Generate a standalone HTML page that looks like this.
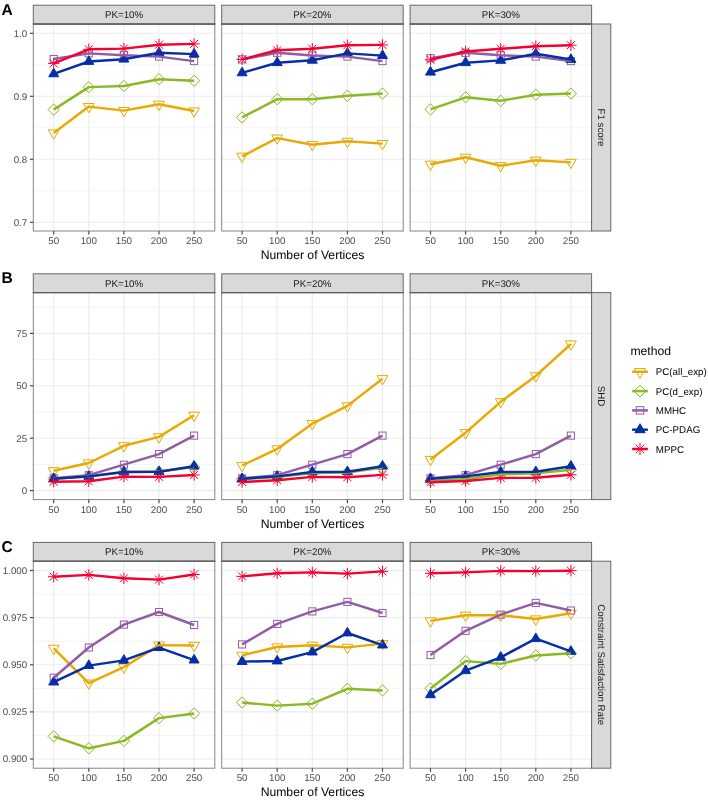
<!DOCTYPE html>
<html><head><meta charset="utf-8"><title>plot</title>
<style>
html,body{margin:0;padding:0;background:#fff;}
svg{display:block;font-family:"Liberation Sans", sans-serif;text-rendering:geometricPrecision;filter:blur(0.35px);}
</style></head><body>
<svg width="708" height="801" viewBox="0 0 708 801">
<rect x="0" y="0" width="708" height="801" fill="#fff"/>
<text x="1.6" y="14.8" font-size="15.6" font-weight="bold" fill="#000">A</text>
<rect x="33.3" y="24" width="181.5" height="207" fill="#fff"/>
<line x1="33.3" y1="64.8" x2="214.8" y2="64.8" stroke="#EBEBEB" stroke-width="0.55"/>
<line x1="33.3" y1="127.8" x2="214.8" y2="127.8" stroke="#EBEBEB" stroke-width="0.55"/>
<line x1="33.3" y1="190.8" x2="214.8" y2="190.8" stroke="#EBEBEB" stroke-width="0.55"/>
<line x1="33.3" y1="33.3" x2="214.8" y2="33.3" stroke="#EBEBEB" stroke-width="1.1"/>
<line x1="33.3" y1="96.3" x2="214.8" y2="96.3" stroke="#EBEBEB" stroke-width="1.1"/>
<line x1="33.3" y1="159.3" x2="214.8" y2="159.3" stroke="#EBEBEB" stroke-width="1.1"/>
<line x1="33.3" y1="222.3" x2="214.8" y2="222.3" stroke="#EBEBEB" stroke-width="1.1"/>
<line x1="53.7" y1="24" x2="53.7" y2="231" stroke="#EBEBEB" stroke-width="1.1"/>
<line x1="88.8" y1="24" x2="88.8" y2="231" stroke="#EBEBEB" stroke-width="1.1"/>
<line x1="123.9" y1="24" x2="123.9" y2="231" stroke="#EBEBEB" stroke-width="1.1"/>
<line x1="159" y1="24" x2="159" y2="231" stroke="#EBEBEB" stroke-width="1.1"/>
<line x1="194.1" y1="24" x2="194.1" y2="231" stroke="#EBEBEB" stroke-width="1.1"/>
<polygon points="53.7,139.22 59.09,129.89 48.31,129.89" fill="none" stroke="#E8A900" stroke-width="1.0"/>
<polygon points="88.8,112.82 94.19,103.49 83.41,103.49" fill="none" stroke="#E8A900" stroke-width="1.0"/>
<polygon points="123.9,116.82 129.29,107.49 118.51,107.49" fill="none" stroke="#E8A900" stroke-width="1.0"/>
<polygon points="159,110.52 164.39,101.19 153.61,101.19" fill="none" stroke="#E8A900" stroke-width="1.0"/>
<polygon points="194.1,117.22 199.49,107.89 188.71,107.89" fill="none" stroke="#E8A900" stroke-width="1.0"/>
<polygon points="48.04,109.6 53.7,115.26 59.36,109.6 53.7,103.94" fill="none" stroke="#8BB823" stroke-width="1.0"/>
<polygon points="83.14,87.1 88.8,92.76 94.46,87.1 88.8,81.44" fill="none" stroke="#8BB823" stroke-width="1.0"/>
<polygon points="118.24,86 123.9,91.66 129.56,86 123.9,80.34" fill="none" stroke="#8BB823" stroke-width="1.0"/>
<polygon points="153.34,79.2 159,84.86 164.66,79.2 159,73.54" fill="none" stroke="#8BB823" stroke-width="1.0"/>
<polygon points="188.44,80.8 194.1,86.46 199.76,80.8 194.1,75.14" fill="none" stroke="#8BB823" stroke-width="1.0"/>
<rect x="50.16" y="55.46" width="7.09" height="7.09" fill="none" stroke="#925CA4" stroke-width="1.0"/>
<rect x="85.26" y="49.86" width="7.09" height="7.09" fill="none" stroke="#925CA4" stroke-width="1.0"/>
<rect x="120.36" y="51.76" width="7.09" height="7.09" fill="none" stroke="#925CA4" stroke-width="1.0"/>
<rect x="155.46" y="53.06" width="7.09" height="7.09" fill="none" stroke="#925CA4" stroke-width="1.0"/>
<rect x="190.56" y="57.56" width="7.09" height="7.09" fill="none" stroke="#925CA4" stroke-width="1.0"/>
<polygon points="53.7,68.15 58.68,76.78 48.72,76.78" fill="#062EA6" stroke="#062EA6" stroke-width="1.0" stroke-linejoin="round"/>
<polygon points="88.8,55.75 93.78,64.38 83.82,64.38" fill="#062EA6" stroke="#062EA6" stroke-width="1.0" stroke-linejoin="round"/>
<polygon points="123.9,53.45 128.88,62.08 118.92,62.08" fill="#062EA6" stroke="#062EA6" stroke-width="1.0" stroke-linejoin="round"/>
<polygon points="159,47.05 163.98,55.68 154.02,55.68" fill="#062EA6" stroke="#062EA6" stroke-width="1.0" stroke-linejoin="round"/>
<polygon points="194.1,48.35 199.08,56.98 189.12,56.98" fill="#062EA6" stroke="#062EA6" stroke-width="1.0" stroke-linejoin="round"/>
<path d="M49.7 59.4L57.7 67.4M49.7 67.4L57.7 59.4M48.04 63.4L59.36 63.4M53.7 57.74L53.7 69.06" fill="none" stroke="#F70031" stroke-width="1.0"/>
<path d="M84.8 45.3L92.8 53.3M84.8 53.3L92.8 45.3M83.14 49.3L94.46 49.3M88.8 43.64L88.8 54.96" fill="none" stroke="#F70031" stroke-width="1.0"/>
<path d="M119.9 44.6L127.9 52.6M119.9 52.6L127.9 44.6M118.24 48.6L129.56 48.6M123.9 42.94L123.9 54.26" fill="none" stroke="#F70031" stroke-width="1.0"/>
<path d="M155 40.7L163 48.7M155 48.7L163 40.7M153.34 44.7L164.66 44.7M159 39.04L159 50.36" fill="none" stroke="#F70031" stroke-width="1.0"/>
<path d="M190.1 39.9L198.1 47.9M190.1 47.9L198.1 39.9M188.44 43.9L199.76 43.9M194.1 38.24L194.1 49.56" fill="none" stroke="#F70031" stroke-width="1.0"/>
<polyline points="53.7,133 88.8,106.6 123.9,110.6 159,104.3 194.1,111" fill="none" stroke="#E8A900" stroke-width="2.45" stroke-linejoin="round" stroke-linecap="butt"/>
<polyline points="53.7,109.6 88.8,87.1 123.9,86 159,79.2 194.1,80.8" fill="none" stroke="#8BB823" stroke-width="2.45" stroke-linejoin="round" stroke-linecap="butt"/>
<polyline points="53.7,59 88.8,53.4 123.9,55.3 159,56.6 194.1,61.1" fill="none" stroke="#925CA4" stroke-width="2.45" stroke-linejoin="round" stroke-linecap="butt"/>
<polyline points="53.7,73.9 88.8,61.5 123.9,59.2 159,52.8 194.1,54.1" fill="none" stroke="#062EA6" stroke-width="2.45" stroke-linejoin="round" stroke-linecap="butt"/>
<polyline points="53.7,63.4 88.8,49.3 123.9,48.6 159,44.7 194.1,43.9" fill="none" stroke="#F70031" stroke-width="2.45" stroke-linejoin="round" stroke-linecap="butt"/>
<rect x="33.3" y="24" width="181.5" height="207" fill="none" stroke="#858585" stroke-width="1.0"/>
<rect x="33.3" y="5.2" width="181.5" height="18.8" fill="#D9D9D9" stroke="#686868" stroke-width="1.0"/>
<line x1="32.8" y1="24" x2="215.3" y2="24" stroke="#5c5c5c" stroke-width="1.3"/>
<text x="124.05" y="18.2" font-size="9.76" fill="#1A1A1A" text-anchor="middle">PK=10%</text>
<line x1="53.7" y1="231" x2="53.7" y2="234.6" stroke="#444444" stroke-width="1.15"/>
<text x="53.7" y="244" font-size="9.76" fill="#4D4D4D" text-anchor="middle">50</text>
<line x1="88.8" y1="231" x2="88.8" y2="234.6" stroke="#444444" stroke-width="1.15"/>
<text x="88.8" y="244" font-size="9.76" fill="#4D4D4D" text-anchor="middle">100</text>
<line x1="123.9" y1="231" x2="123.9" y2="234.6" stroke="#444444" stroke-width="1.15"/>
<text x="123.9" y="244" font-size="9.76" fill="#4D4D4D" text-anchor="middle">150</text>
<line x1="159" y1="231" x2="159" y2="234.6" stroke="#444444" stroke-width="1.15"/>
<text x="159" y="244" font-size="9.76" fill="#4D4D4D" text-anchor="middle">200</text>
<line x1="194.1" y1="231" x2="194.1" y2="234.6" stroke="#444444" stroke-width="1.15"/>
<text x="194.1" y="244" font-size="9.76" fill="#4D4D4D" text-anchor="middle">250</text>
<rect x="221.7" y="24" width="181.5" height="207" fill="#fff"/>
<line x1="221.7" y1="64.8" x2="403.2" y2="64.8" stroke="#EBEBEB" stroke-width="0.55"/>
<line x1="221.7" y1="127.8" x2="403.2" y2="127.8" stroke="#EBEBEB" stroke-width="0.55"/>
<line x1="221.7" y1="190.8" x2="403.2" y2="190.8" stroke="#EBEBEB" stroke-width="0.55"/>
<line x1="221.7" y1="33.3" x2="403.2" y2="33.3" stroke="#EBEBEB" stroke-width="1.1"/>
<line x1="221.7" y1="96.3" x2="403.2" y2="96.3" stroke="#EBEBEB" stroke-width="1.1"/>
<line x1="221.7" y1="159.3" x2="403.2" y2="159.3" stroke="#EBEBEB" stroke-width="1.1"/>
<line x1="221.7" y1="222.3" x2="403.2" y2="222.3" stroke="#EBEBEB" stroke-width="1.1"/>
<line x1="242.1" y1="24" x2="242.1" y2="231" stroke="#EBEBEB" stroke-width="1.1"/>
<line x1="277.2" y1="24" x2="277.2" y2="231" stroke="#EBEBEB" stroke-width="1.1"/>
<line x1="312.3" y1="24" x2="312.3" y2="231" stroke="#EBEBEB" stroke-width="1.1"/>
<line x1="347.4" y1="24" x2="347.4" y2="231" stroke="#EBEBEB" stroke-width="1.1"/>
<line x1="382.5" y1="24" x2="382.5" y2="231" stroke="#EBEBEB" stroke-width="1.1"/>
<polygon points="242.1,162.52 247.49,153.19 236.71,153.19" fill="none" stroke="#E8A900" stroke-width="1.0"/>
<polygon points="277.2,144.32 282.59,134.99 271.81,134.99" fill="none" stroke="#E8A900" stroke-width="1.0"/>
<polygon points="312.3,150.92 317.69,141.59 306.91,141.59" fill="none" stroke="#E8A900" stroke-width="1.0"/>
<polygon points="347.4,147.52 352.79,138.19 342.01,138.19" fill="none" stroke="#E8A900" stroke-width="1.0"/>
<polygon points="382.5,149.82 387.89,140.49 377.11,140.49" fill="none" stroke="#E8A900" stroke-width="1.0"/>
<polygon points="236.44,117.4 242.1,123.06 247.76,117.4 242.1,111.74" fill="none" stroke="#8BB823" stroke-width="1.0"/>
<polygon points="271.54,99.2 277.2,104.86 282.86,99.2 277.2,93.54" fill="none" stroke="#8BB823" stroke-width="1.0"/>
<polygon points="306.64,99.2 312.3,104.86 317.96,99.2 312.3,93.54" fill="none" stroke="#8BB823" stroke-width="1.0"/>
<polygon points="341.74,95.8 347.4,101.46 353.06,95.8 347.4,90.14" fill="none" stroke="#8BB823" stroke-width="1.0"/>
<polygon points="376.84,93.5 382.5,99.16 388.16,93.5 382.5,87.84" fill="none" stroke="#8BB823" stroke-width="1.0"/>
<rect x="238.56" y="55.86" width="7.09" height="7.09" fill="none" stroke="#925CA4" stroke-width="1.0"/>
<rect x="273.66" y="49.26" width="7.09" height="7.09" fill="none" stroke="#925CA4" stroke-width="1.0"/>
<rect x="308.76" y="51.96" width="7.09" height="7.09" fill="none" stroke="#925CA4" stroke-width="1.0"/>
<rect x="343.86" y="53.06" width="7.09" height="7.09" fill="none" stroke="#925CA4" stroke-width="1.0"/>
<rect x="378.96" y="57.56" width="7.09" height="7.09" fill="none" stroke="#925CA4" stroke-width="1.0"/>
<polygon points="242.1,67.15 247.08,75.78 237.12,75.78" fill="#062EA6" stroke="#062EA6" stroke-width="1.0" stroke-linejoin="round"/>
<polygon points="277.2,56.95 282.18,65.58 272.22,65.58" fill="#062EA6" stroke="#062EA6" stroke-width="1.0" stroke-linejoin="round"/>
<polygon points="312.3,54.55 317.28,63.18 307.32,63.18" fill="#062EA6" stroke="#062EA6" stroke-width="1.0" stroke-linejoin="round"/>
<polygon points="347.4,47.65 352.38,56.28 342.42,56.28" fill="#062EA6" stroke="#062EA6" stroke-width="1.0" stroke-linejoin="round"/>
<polygon points="382.5,49.85 387.48,58.48 377.52,58.48" fill="#062EA6" stroke="#062EA6" stroke-width="1.0" stroke-linejoin="round"/>
<path d="M238.1 55.4L246.1 63.4M238.1 63.4L246.1 55.4M236.44 59.4L247.76 59.4M242.1 53.74L242.1 65.06" fill="none" stroke="#F70031" stroke-width="1.0"/>
<path d="M273.2 46.3L281.2 54.3M273.2 54.3L281.2 46.3M271.54 50.3L282.86 50.3M277.2 44.64L277.2 55.96" fill="none" stroke="#F70031" stroke-width="1.0"/>
<path d="M308.3 44.7L316.3 52.7M308.3 52.7L316.3 44.7M306.64 48.7L317.96 48.7M312.3 43.04L312.3 54.36" fill="none" stroke="#F70031" stroke-width="1.0"/>
<path d="M343.4 41.2L351.4 49.2M343.4 49.2L351.4 41.2M341.74 45.2L353.06 45.2M347.4 39.54L347.4 50.86" fill="none" stroke="#F70031" stroke-width="1.0"/>
<path d="M378.5 40.9L386.5 48.9M378.5 48.9L386.5 40.9M376.84 44.9L388.16 44.9M382.5 39.24L382.5 50.56" fill="none" stroke="#F70031" stroke-width="1.0"/>
<polyline points="242.1,156.3 277.2,138.1 312.3,144.7 347.4,141.3 382.5,143.6" fill="none" stroke="#E8A900" stroke-width="2.45" stroke-linejoin="round" stroke-linecap="butt"/>
<polyline points="242.1,117.4 277.2,99.2 312.3,99.2 347.4,95.8 382.5,93.5" fill="none" stroke="#8BB823" stroke-width="2.45" stroke-linejoin="round" stroke-linecap="butt"/>
<polyline points="242.1,59.4 277.2,52.8 312.3,55.5 347.4,56.6 382.5,61.1" fill="none" stroke="#925CA4" stroke-width="2.45" stroke-linejoin="round" stroke-linecap="butt"/>
<polyline points="242.1,72.9 277.2,62.7 312.3,60.3 347.4,53.4 382.5,55.6" fill="none" stroke="#062EA6" stroke-width="2.45" stroke-linejoin="round" stroke-linecap="butt"/>
<polyline points="242.1,59.4 277.2,50.3 312.3,48.7 347.4,45.2 382.5,44.9" fill="none" stroke="#F70031" stroke-width="2.45" stroke-linejoin="round" stroke-linecap="butt"/>
<rect x="221.7" y="24" width="181.5" height="207" fill="none" stroke="#858585" stroke-width="1.0"/>
<rect x="221.7" y="5.2" width="181.5" height="18.8" fill="#D9D9D9" stroke="#686868" stroke-width="1.0"/>
<line x1="221.2" y1="24" x2="403.7" y2="24" stroke="#5c5c5c" stroke-width="1.3"/>
<text x="312.45" y="18.2" font-size="9.76" fill="#1A1A1A" text-anchor="middle">PK=20%</text>
<line x1="242.1" y1="231" x2="242.1" y2="234.6" stroke="#444444" stroke-width="1.15"/>
<text x="242.1" y="244" font-size="9.76" fill="#4D4D4D" text-anchor="middle">50</text>
<line x1="277.2" y1="231" x2="277.2" y2="234.6" stroke="#444444" stroke-width="1.15"/>
<text x="277.2" y="244" font-size="9.76" fill="#4D4D4D" text-anchor="middle">100</text>
<line x1="312.3" y1="231" x2="312.3" y2="234.6" stroke="#444444" stroke-width="1.15"/>
<text x="312.3" y="244" font-size="9.76" fill="#4D4D4D" text-anchor="middle">150</text>
<line x1="347.4" y1="231" x2="347.4" y2="234.6" stroke="#444444" stroke-width="1.15"/>
<text x="347.4" y="244" font-size="9.76" fill="#4D4D4D" text-anchor="middle">200</text>
<line x1="382.5" y1="231" x2="382.5" y2="234.6" stroke="#444444" stroke-width="1.15"/>
<text x="382.5" y="244" font-size="9.76" fill="#4D4D4D" text-anchor="middle">250</text>
<rect x="410.1" y="24" width="181.5" height="207" fill="#fff"/>
<line x1="410.1" y1="64.8" x2="591.6" y2="64.8" stroke="#EBEBEB" stroke-width="0.55"/>
<line x1="410.1" y1="127.8" x2="591.6" y2="127.8" stroke="#EBEBEB" stroke-width="0.55"/>
<line x1="410.1" y1="190.8" x2="591.6" y2="190.8" stroke="#EBEBEB" stroke-width="0.55"/>
<line x1="410.1" y1="33.3" x2="591.6" y2="33.3" stroke="#EBEBEB" stroke-width="1.1"/>
<line x1="410.1" y1="96.3" x2="591.6" y2="96.3" stroke="#EBEBEB" stroke-width="1.1"/>
<line x1="410.1" y1="159.3" x2="591.6" y2="159.3" stroke="#EBEBEB" stroke-width="1.1"/>
<line x1="410.1" y1="222.3" x2="591.6" y2="222.3" stroke="#EBEBEB" stroke-width="1.1"/>
<line x1="430.5" y1="24" x2="430.5" y2="231" stroke="#EBEBEB" stroke-width="1.1"/>
<line x1="465.6" y1="24" x2="465.6" y2="231" stroke="#EBEBEB" stroke-width="1.1"/>
<line x1="500.7" y1="24" x2="500.7" y2="231" stroke="#EBEBEB" stroke-width="1.1"/>
<line x1="535.8" y1="24" x2="535.8" y2="231" stroke="#EBEBEB" stroke-width="1.1"/>
<line x1="570.9" y1="24" x2="570.9" y2="231" stroke="#EBEBEB" stroke-width="1.1"/>
<polygon points="430.5,170.52 435.89,161.19 425.11,161.19" fill="none" stroke="#E8A900" stroke-width="1.0"/>
<polygon points="465.6,163.52 470.99,154.19 460.21,154.19" fill="none" stroke="#E8A900" stroke-width="1.0"/>
<polygon points="500.7,171.92 506.09,162.59 495.31,162.59" fill="none" stroke="#E8A900" stroke-width="1.0"/>
<polygon points="535.8,166.52 541.19,157.19 530.41,157.19" fill="none" stroke="#E8A900" stroke-width="1.0"/>
<polygon points="570.9,168.62 576.29,159.29 565.51,159.29" fill="none" stroke="#E8A900" stroke-width="1.0"/>
<polygon points="424.84,109.4 430.5,115.06 436.16,109.4 430.5,103.74" fill="none" stroke="#8BB823" stroke-width="1.0"/>
<polygon points="459.94,97.3 465.6,102.96 471.26,97.3 465.6,91.64" fill="none" stroke="#8BB823" stroke-width="1.0"/>
<polygon points="495.04,100.8 500.7,106.46 506.36,100.8 500.7,95.14" fill="none" stroke="#8BB823" stroke-width="1.0"/>
<polygon points="530.14,94.7 535.8,100.36 541.46,94.7 535.8,89.04" fill="none" stroke="#8BB823" stroke-width="1.0"/>
<polygon points="565.24,93.5 570.9,99.16 576.56,93.5 570.9,87.84" fill="none" stroke="#8BB823" stroke-width="1.0"/>
<rect x="426.96" y="54.66" width="7.09" height="7.09" fill="none" stroke="#925CA4" stroke-width="1.0"/>
<rect x="462.06" y="49.26" width="7.09" height="7.09" fill="none" stroke="#925CA4" stroke-width="1.0"/>
<rect x="497.16" y="51.76" width="7.09" height="7.09" fill="none" stroke="#925CA4" stroke-width="1.0"/>
<rect x="532.26" y="53.06" width="7.09" height="7.09" fill="none" stroke="#925CA4" stroke-width="1.0"/>
<rect x="567.36" y="57.56" width="7.09" height="7.09" fill="none" stroke="#925CA4" stroke-width="1.0"/>
<polygon points="430.5,66.45 435.48,75.08 425.52,75.08" fill="#062EA6" stroke="#062EA6" stroke-width="1.0" stroke-linejoin="round"/>
<polygon points="465.6,56.95 470.58,65.58 460.62,65.58" fill="#062EA6" stroke="#062EA6" stroke-width="1.0" stroke-linejoin="round"/>
<polygon points="500.7,54.65 505.68,63.28 495.72,63.28" fill="#062EA6" stroke="#062EA6" stroke-width="1.0" stroke-linejoin="round"/>
<polygon points="535.8,48.05 540.78,56.68 530.82,56.68" fill="#062EA6" stroke="#062EA6" stroke-width="1.0" stroke-linejoin="round"/>
<polygon points="570.9,53.75 575.88,62.38 565.92,62.38" fill="#062EA6" stroke="#062EA6" stroke-width="1.0" stroke-linejoin="round"/>
<path d="M426.5 55.8L434.5 63.8M426.5 63.8L434.5 55.8M424.84 59.8L436.16 59.8M430.5 54.14L430.5 65.46" fill="none" stroke="#F70031" stroke-width="1.0"/>
<path d="M461.6 47.5L469.6 55.5M461.6 55.5L469.6 47.5M459.94 51.5L471.26 51.5M465.6 45.84L465.6 57.16" fill="none" stroke="#F70031" stroke-width="1.0"/>
<path d="M496.7 44.8L504.7 52.8M496.7 52.8L504.7 44.8M495.04 48.8L506.36 48.8M500.7 43.14L500.7 54.46" fill="none" stroke="#F70031" stroke-width="1.0"/>
<path d="M531.8 42.2L539.8 50.2M531.8 50.2L539.8 42.2M530.14 46.2L541.46 46.2M535.8 40.54L535.8 51.86" fill="none" stroke="#F70031" stroke-width="1.0"/>
<path d="M566.9 41.2L574.9 49.2M566.9 49.2L574.9 41.2M565.24 45.2L576.56 45.2M570.9 39.54L570.9 50.86" fill="none" stroke="#F70031" stroke-width="1.0"/>
<polyline points="430.5,164.3 465.6,157.3 500.7,165.7 535.8,160.3 570.9,162.4" fill="none" stroke="#E8A900" stroke-width="2.45" stroke-linejoin="round" stroke-linecap="butt"/>
<polyline points="430.5,109.4 465.6,97.3 500.7,100.8 535.8,94.7 570.9,93.5" fill="none" stroke="#8BB823" stroke-width="2.45" stroke-linejoin="round" stroke-linecap="butt"/>
<polyline points="430.5,58.2 465.6,52.8 500.7,55.3 535.8,56.6 570.9,61.1" fill="none" stroke="#925CA4" stroke-width="2.45" stroke-linejoin="round" stroke-linecap="butt"/>
<polyline points="430.5,72.2 465.6,62.7 500.7,60.4 535.8,53.8 570.9,59.5" fill="none" stroke="#062EA6" stroke-width="2.45" stroke-linejoin="round" stroke-linecap="butt"/>
<polyline points="430.5,59.8 465.6,51.5 500.7,48.8 535.8,46.2 570.9,45.2" fill="none" stroke="#F70031" stroke-width="2.45" stroke-linejoin="round" stroke-linecap="butt"/>
<rect x="410.1" y="24" width="181.5" height="207" fill="none" stroke="#858585" stroke-width="1.0"/>
<rect x="410.1" y="5.2" width="181.5" height="18.8" fill="#D9D9D9" stroke="#686868" stroke-width="1.0"/>
<line x1="409.6" y1="24" x2="592.1" y2="24" stroke="#5c5c5c" stroke-width="1.3"/>
<text x="500.85" y="18.2" font-size="9.76" fill="#1A1A1A" text-anchor="middle">PK=30%</text>
<line x1="430.5" y1="231" x2="430.5" y2="234.6" stroke="#444444" stroke-width="1.15"/>
<text x="430.5" y="244" font-size="9.76" fill="#4D4D4D" text-anchor="middle">50</text>
<line x1="465.6" y1="231" x2="465.6" y2="234.6" stroke="#444444" stroke-width="1.15"/>
<text x="465.6" y="244" font-size="9.76" fill="#4D4D4D" text-anchor="middle">100</text>
<line x1="500.7" y1="231" x2="500.7" y2="234.6" stroke="#444444" stroke-width="1.15"/>
<text x="500.7" y="244" font-size="9.76" fill="#4D4D4D" text-anchor="middle">150</text>
<line x1="535.8" y1="231" x2="535.8" y2="234.6" stroke="#444444" stroke-width="1.15"/>
<text x="535.8" y="244" font-size="9.76" fill="#4D4D4D" text-anchor="middle">200</text>
<line x1="570.9" y1="231" x2="570.9" y2="234.6" stroke="#444444" stroke-width="1.15"/>
<text x="570.9" y="244" font-size="9.76" fill="#4D4D4D" text-anchor="middle">250</text>
<line x1="29.9" y1="33.3" x2="33.3" y2="33.3" stroke="#444444" stroke-width="1.15"/>
<text x="27.2" y="36.75" font-size="9.76" fill="#4D4D4D" text-anchor="end">1.0</text>
<line x1="29.9" y1="96.3" x2="33.3" y2="96.3" stroke="#444444" stroke-width="1.15"/>
<text x="27.2" y="99.75" font-size="9.76" fill="#4D4D4D" text-anchor="end">0.9</text>
<line x1="29.9" y1="159.3" x2="33.3" y2="159.3" stroke="#444444" stroke-width="1.15"/>
<text x="27.2" y="162.75" font-size="9.76" fill="#4D4D4D" text-anchor="end">0.8</text>
<line x1="29.9" y1="222.3" x2="33.3" y2="222.3" stroke="#444444" stroke-width="1.15"/>
<text x="27.2" y="225.75" font-size="9.76" fill="#4D4D4D" text-anchor="end">0.7</text>
<rect x="591.6" y="24" width="19.2" height="207" fill="#D9D9D9" stroke="#686868" stroke-width="1.0"/>
<text x="0" y="0" font-size="9.76" fill="#1A1A1A" text-anchor="middle" transform="translate(598.4 127.5) rotate(90)">F1 score</text>
<text x="312.45" y="259" font-size="12.2" fill="#000" text-anchor="middle">Number of Vertices</text>
<text x="1.6" y="283.4" font-size="15.6" font-weight="bold" fill="#000">B</text>
<rect x="33.3" y="292.6" width="181.5" height="207" fill="#fff"/>
<line x1="33.3" y1="307.2" x2="214.8" y2="307.2" stroke="#EBEBEB" stroke-width="0.55"/>
<line x1="33.3" y1="359.6" x2="214.8" y2="359.6" stroke="#EBEBEB" stroke-width="0.55"/>
<line x1="33.3" y1="412" x2="214.8" y2="412" stroke="#EBEBEB" stroke-width="0.55"/>
<line x1="33.3" y1="464.4" x2="214.8" y2="464.4" stroke="#EBEBEB" stroke-width="0.55"/>
<line x1="33.3" y1="333.4" x2="214.8" y2="333.4" stroke="#EBEBEB" stroke-width="1.1"/>
<line x1="33.3" y1="385.8" x2="214.8" y2="385.8" stroke="#EBEBEB" stroke-width="1.1"/>
<line x1="33.3" y1="438.2" x2="214.8" y2="438.2" stroke="#EBEBEB" stroke-width="1.1"/>
<line x1="33.3" y1="490.6" x2="214.8" y2="490.6" stroke="#EBEBEB" stroke-width="1.1"/>
<line x1="53.7" y1="292.6" x2="53.7" y2="499.6" stroke="#EBEBEB" stroke-width="1.1"/>
<line x1="88.8" y1="292.6" x2="88.8" y2="499.6" stroke="#EBEBEB" stroke-width="1.1"/>
<line x1="123.9" y1="292.6" x2="123.9" y2="499.6" stroke="#EBEBEB" stroke-width="1.1"/>
<line x1="159" y1="292.6" x2="159" y2="499.6" stroke="#EBEBEB" stroke-width="1.1"/>
<line x1="194.1" y1="292.6" x2="194.1" y2="499.6" stroke="#EBEBEB" stroke-width="1.1"/>
<polygon points="53.7,477.02 59.09,467.69 48.31,467.69" fill="none" stroke="#E8A900" stroke-width="1.0"/>
<polygon points="88.8,469.22 94.19,459.89 83.41,459.89" fill="none" stroke="#E8A900" stroke-width="1.0"/>
<polygon points="123.9,452.02 129.29,442.69 118.51,442.69" fill="none" stroke="#E8A900" stroke-width="1.0"/>
<polygon points="159,443.12 164.39,433.79 153.61,433.79" fill="none" stroke="#E8A900" stroke-width="1.0"/>
<polygon points="194.1,421.52 199.49,412.19 188.71,412.19" fill="none" stroke="#E8A900" stroke-width="1.0"/>
<polygon points="48.04,478.7 53.7,484.36 59.36,478.7 53.7,473.04" fill="none" stroke="#8BB823" stroke-width="1.0"/>
<polygon points="83.14,476.5 88.8,482.16 94.46,476.5 88.8,470.84" fill="none" stroke="#8BB823" stroke-width="1.0"/>
<polygon points="118.24,472 123.9,477.66 129.56,472 123.9,466.34" fill="none" stroke="#8BB823" stroke-width="1.0"/>
<polygon points="153.34,471.5 159,477.16 164.66,471.5 159,465.84" fill="none" stroke="#8BB823" stroke-width="1.0"/>
<polygon points="188.44,467 194.1,472.66 199.76,467 194.1,461.34" fill="none" stroke="#8BB823" stroke-width="1.0"/>
<rect x="50.16" y="474.76" width="7.09" height="7.09" fill="none" stroke="#925CA4" stroke-width="1.0"/>
<rect x="85.26" y="471.66" width="7.09" height="7.09" fill="none" stroke="#925CA4" stroke-width="1.0"/>
<rect x="120.36" y="461.16" width="7.09" height="7.09" fill="none" stroke="#925CA4" stroke-width="1.0"/>
<rect x="155.46" y="450.56" width="7.09" height="7.09" fill="none" stroke="#925CA4" stroke-width="1.0"/>
<rect x="190.56" y="432.06" width="7.09" height="7.09" fill="none" stroke="#925CA4" stroke-width="1.0"/>
<polygon points="53.7,472.95 58.68,481.58 48.72,481.58" fill="#062EA6" stroke="#062EA6" stroke-width="1.0" stroke-linejoin="round"/>
<polygon points="88.8,470.65 93.78,479.28 83.82,479.28" fill="#062EA6" stroke="#062EA6" stroke-width="1.0" stroke-linejoin="round"/>
<polygon points="123.9,466.25 128.88,474.88 118.92,474.88" fill="#062EA6" stroke="#062EA6" stroke-width="1.0" stroke-linejoin="round"/>
<polygon points="159,466.05 163.98,474.68 154.02,474.68" fill="#062EA6" stroke="#062EA6" stroke-width="1.0" stroke-linejoin="round"/>
<polygon points="194.1,460.45 199.08,469.08 189.12,469.08" fill="#062EA6" stroke="#062EA6" stroke-width="1.0" stroke-linejoin="round"/>
<path d="M49.7 477.8L57.7 485.8M49.7 485.8L57.7 477.8M48.04 481.8L59.36 481.8M53.7 476.14L53.7 487.46" fill="none" stroke="#F70031" stroke-width="1.0"/>
<path d="M84.8 477.3L92.8 485.3M84.8 485.3L92.8 477.3M83.14 481.3L94.46 481.3M88.8 475.64L88.8 486.96" fill="none" stroke="#F70031" stroke-width="1.0"/>
<path d="M119.9 472.6L127.9 480.6M119.9 480.6L127.9 472.6M118.24 476.6L129.56 476.6M123.9 470.94L123.9 482.26" fill="none" stroke="#F70031" stroke-width="1.0"/>
<path d="M155 472.9L163 480.9M155 480.9L163 472.9M153.34 476.9L164.66 476.9M159 471.24L159 482.56" fill="none" stroke="#F70031" stroke-width="1.0"/>
<path d="M190.1 471L198.1 479M190.1 479L198.1 471M188.44 475L199.76 475M194.1 469.34L194.1 480.66" fill="none" stroke="#F70031" stroke-width="1.0"/>
<polyline points="53.7,470.8 88.8,463 123.9,445.8 159,436.9 194.1,415.3" fill="none" stroke="#E8A900" stroke-width="2.45" stroke-linejoin="round" stroke-linecap="butt"/>
<polyline points="53.7,478.7 88.8,476.5 123.9,472 159,471.5 194.1,467" fill="none" stroke="#8BB823" stroke-width="2.45" stroke-linejoin="round" stroke-linecap="butt"/>
<polyline points="53.7,478.3 88.8,475.2 123.9,464.7 159,454.1 194.1,435.6" fill="none" stroke="#925CA4" stroke-width="2.45" stroke-linejoin="round" stroke-linecap="butt"/>
<polyline points="53.7,478.7 88.8,476.4 123.9,472 159,471.8 194.1,466.2" fill="none" stroke="#062EA6" stroke-width="2.45" stroke-linejoin="round" stroke-linecap="butt"/>
<polyline points="53.7,481.8 88.8,481.3 123.9,476.6 159,476.9 194.1,475" fill="none" stroke="#F70031" stroke-width="2.45" stroke-linejoin="round" stroke-linecap="butt"/>
<rect x="33.3" y="292.6" width="181.5" height="207" fill="none" stroke="#858585" stroke-width="1.0"/>
<rect x="33.3" y="273.8" width="181.5" height="18.8" fill="#D9D9D9" stroke="#686868" stroke-width="1.0"/>
<line x1="32.8" y1="292.6" x2="215.3" y2="292.6" stroke="#5c5c5c" stroke-width="1.3"/>
<text x="124.05" y="286.8" font-size="9.76" fill="#1A1A1A" text-anchor="middle">PK=10%</text>
<line x1="53.7" y1="499.6" x2="53.7" y2="503.2" stroke="#444444" stroke-width="1.15"/>
<text x="53.7" y="512.6" font-size="9.76" fill="#4D4D4D" text-anchor="middle">50</text>
<line x1="88.8" y1="499.6" x2="88.8" y2="503.2" stroke="#444444" stroke-width="1.15"/>
<text x="88.8" y="512.6" font-size="9.76" fill="#4D4D4D" text-anchor="middle">100</text>
<line x1="123.9" y1="499.6" x2="123.9" y2="503.2" stroke="#444444" stroke-width="1.15"/>
<text x="123.9" y="512.6" font-size="9.76" fill="#4D4D4D" text-anchor="middle">150</text>
<line x1="159" y1="499.6" x2="159" y2="503.2" stroke="#444444" stroke-width="1.15"/>
<text x="159" y="512.6" font-size="9.76" fill="#4D4D4D" text-anchor="middle">200</text>
<line x1="194.1" y1="499.6" x2="194.1" y2="503.2" stroke="#444444" stroke-width="1.15"/>
<text x="194.1" y="512.6" font-size="9.76" fill="#4D4D4D" text-anchor="middle">250</text>
<rect x="221.7" y="292.6" width="181.5" height="207" fill="#fff"/>
<line x1="221.7" y1="307.2" x2="403.2" y2="307.2" stroke="#EBEBEB" stroke-width="0.55"/>
<line x1="221.7" y1="359.6" x2="403.2" y2="359.6" stroke="#EBEBEB" stroke-width="0.55"/>
<line x1="221.7" y1="412" x2="403.2" y2="412" stroke="#EBEBEB" stroke-width="0.55"/>
<line x1="221.7" y1="464.4" x2="403.2" y2="464.4" stroke="#EBEBEB" stroke-width="0.55"/>
<line x1="221.7" y1="333.4" x2="403.2" y2="333.4" stroke="#EBEBEB" stroke-width="1.1"/>
<line x1="221.7" y1="385.8" x2="403.2" y2="385.8" stroke="#EBEBEB" stroke-width="1.1"/>
<line x1="221.7" y1="438.2" x2="403.2" y2="438.2" stroke="#EBEBEB" stroke-width="1.1"/>
<line x1="221.7" y1="490.6" x2="403.2" y2="490.6" stroke="#EBEBEB" stroke-width="1.1"/>
<line x1="242.1" y1="292.6" x2="242.1" y2="499.6" stroke="#EBEBEB" stroke-width="1.1"/>
<line x1="277.2" y1="292.6" x2="277.2" y2="499.6" stroke="#EBEBEB" stroke-width="1.1"/>
<line x1="312.3" y1="292.6" x2="312.3" y2="499.6" stroke="#EBEBEB" stroke-width="1.1"/>
<line x1="347.4" y1="292.6" x2="347.4" y2="499.6" stroke="#EBEBEB" stroke-width="1.1"/>
<line x1="382.5" y1="292.6" x2="382.5" y2="499.6" stroke="#EBEBEB" stroke-width="1.1"/>
<polygon points="242.1,471.72 247.49,462.39 236.71,462.39" fill="none" stroke="#E8A900" stroke-width="1.0"/>
<polygon points="277.2,455.12 282.59,445.79 271.81,445.79" fill="none" stroke="#E8A900" stroke-width="1.0"/>
<polygon points="312.3,429.92 317.69,420.59 306.91,420.59" fill="none" stroke="#E8A900" stroke-width="1.0"/>
<polygon points="347.4,412.12 352.79,402.79 342.01,402.79" fill="none" stroke="#E8A900" stroke-width="1.0"/>
<polygon points="382.5,384.92 387.89,375.59 377.11,375.59" fill="none" stroke="#E8A900" stroke-width="1.0"/>
<polygon points="236.44,479 242.1,484.66 247.76,479 242.1,473.34" fill="none" stroke="#8BB823" stroke-width="1.0"/>
<polygon points="271.54,477 277.2,482.66 282.86,477 277.2,471.34" fill="none" stroke="#8BB823" stroke-width="1.0"/>
<polygon points="306.64,473 312.3,478.66 317.96,473 312.3,467.34" fill="none" stroke="#8BB823" stroke-width="1.0"/>
<polygon points="341.74,472.5 347.4,478.16 353.06,472.5 347.4,466.84" fill="none" stroke="#8BB823" stroke-width="1.0"/>
<polygon points="376.84,467.5 382.5,473.16 388.16,467.5 382.5,461.84" fill="none" stroke="#8BB823" stroke-width="1.0"/>
<rect x="238.56" y="474.76" width="7.09" height="7.09" fill="none" stroke="#925CA4" stroke-width="1.0"/>
<rect x="273.66" y="471.66" width="7.09" height="7.09" fill="none" stroke="#925CA4" stroke-width="1.0"/>
<rect x="308.76" y="461.16" width="7.09" height="7.09" fill="none" stroke="#925CA4" stroke-width="1.0"/>
<rect x="343.86" y="450.56" width="7.09" height="7.09" fill="none" stroke="#925CA4" stroke-width="1.0"/>
<rect x="378.96" y="432.06" width="7.09" height="7.09" fill="none" stroke="#925CA4" stroke-width="1.0"/>
<polygon points="242.1,472.95 247.08,481.58 237.12,481.58" fill="#062EA6" stroke="#062EA6" stroke-width="1.0" stroke-linejoin="round"/>
<polygon points="277.2,470.65 282.18,479.28 272.22,479.28" fill="#062EA6" stroke="#062EA6" stroke-width="1.0" stroke-linejoin="round"/>
<polygon points="312.3,466.25 317.28,474.88 307.32,474.88" fill="#062EA6" stroke="#062EA6" stroke-width="1.0" stroke-linejoin="round"/>
<polygon points="347.4,466.05 352.38,474.68 342.42,474.68" fill="#062EA6" stroke="#062EA6" stroke-width="1.0" stroke-linejoin="round"/>
<polygon points="382.5,460.45 387.48,469.08 377.52,469.08" fill="#062EA6" stroke="#062EA6" stroke-width="1.0" stroke-linejoin="round"/>
<path d="M238.1 478L246.1 486M238.1 486L246.1 478M236.44 482L247.76 482M242.1 476.34L242.1 487.66" fill="none" stroke="#F70031" stroke-width="1.0"/>
<path d="M273.2 476.3L281.2 484.3M273.2 484.3L281.2 476.3M271.54 480.3L282.86 480.3M277.2 474.64L277.2 485.96" fill="none" stroke="#F70031" stroke-width="1.0"/>
<path d="M308.3 472.9L316.3 480.9M308.3 480.9L316.3 472.9M306.64 476.9L317.96 476.9M312.3 471.24L312.3 482.56" fill="none" stroke="#F70031" stroke-width="1.0"/>
<path d="M343.4 473.2L351.4 481.2M343.4 481.2L351.4 473.2M341.74 477.2L353.06 477.2M347.4 471.54L347.4 482.86" fill="none" stroke="#F70031" stroke-width="1.0"/>
<path d="M378.5 470.9L386.5 478.9M378.5 478.9L386.5 470.9M376.84 474.9L388.16 474.9M382.5 469.24L382.5 480.56" fill="none" stroke="#F70031" stroke-width="1.0"/>
<polyline points="242.1,465.5 277.2,448.9 312.3,423.7 347.4,405.9 382.5,378.7" fill="none" stroke="#E8A900" stroke-width="2.45" stroke-linejoin="round" stroke-linecap="butt"/>
<polyline points="242.1,479 277.2,477 312.3,473 347.4,472.5 382.5,467.5" fill="none" stroke="#8BB823" stroke-width="2.45" stroke-linejoin="round" stroke-linecap="butt"/>
<polyline points="242.1,478.3 277.2,475.2 312.3,464.7 347.4,454.1 382.5,435.6" fill="none" stroke="#925CA4" stroke-width="2.45" stroke-linejoin="round" stroke-linecap="butt"/>
<polyline points="242.1,478.7 277.2,476.4 312.3,472 347.4,471.8 382.5,466.2" fill="none" stroke="#062EA6" stroke-width="2.45" stroke-linejoin="round" stroke-linecap="butt"/>
<polyline points="242.1,482 277.2,480.3 312.3,476.9 347.4,477.2 382.5,474.9" fill="none" stroke="#F70031" stroke-width="2.45" stroke-linejoin="round" stroke-linecap="butt"/>
<rect x="221.7" y="292.6" width="181.5" height="207" fill="none" stroke="#858585" stroke-width="1.0"/>
<rect x="221.7" y="273.8" width="181.5" height="18.8" fill="#D9D9D9" stroke="#686868" stroke-width="1.0"/>
<line x1="221.2" y1="292.6" x2="403.7" y2="292.6" stroke="#5c5c5c" stroke-width="1.3"/>
<text x="312.45" y="286.8" font-size="9.76" fill="#1A1A1A" text-anchor="middle">PK=20%</text>
<line x1="242.1" y1="499.6" x2="242.1" y2="503.2" stroke="#444444" stroke-width="1.15"/>
<text x="242.1" y="512.6" font-size="9.76" fill="#4D4D4D" text-anchor="middle">50</text>
<line x1="277.2" y1="499.6" x2="277.2" y2="503.2" stroke="#444444" stroke-width="1.15"/>
<text x="277.2" y="512.6" font-size="9.76" fill="#4D4D4D" text-anchor="middle">100</text>
<line x1="312.3" y1="499.6" x2="312.3" y2="503.2" stroke="#444444" stroke-width="1.15"/>
<text x="312.3" y="512.6" font-size="9.76" fill="#4D4D4D" text-anchor="middle">150</text>
<line x1="347.4" y1="499.6" x2="347.4" y2="503.2" stroke="#444444" stroke-width="1.15"/>
<text x="347.4" y="512.6" font-size="9.76" fill="#4D4D4D" text-anchor="middle">200</text>
<line x1="382.5" y1="499.6" x2="382.5" y2="503.2" stroke="#444444" stroke-width="1.15"/>
<text x="382.5" y="512.6" font-size="9.76" fill="#4D4D4D" text-anchor="middle">250</text>
<rect x="410.1" y="292.6" width="181.5" height="207" fill="#fff"/>
<line x1="410.1" y1="307.2" x2="591.6" y2="307.2" stroke="#EBEBEB" stroke-width="0.55"/>
<line x1="410.1" y1="359.6" x2="591.6" y2="359.6" stroke="#EBEBEB" stroke-width="0.55"/>
<line x1="410.1" y1="412" x2="591.6" y2="412" stroke="#EBEBEB" stroke-width="0.55"/>
<line x1="410.1" y1="464.4" x2="591.6" y2="464.4" stroke="#EBEBEB" stroke-width="0.55"/>
<line x1="410.1" y1="333.4" x2="591.6" y2="333.4" stroke="#EBEBEB" stroke-width="1.1"/>
<line x1="410.1" y1="385.8" x2="591.6" y2="385.8" stroke="#EBEBEB" stroke-width="1.1"/>
<line x1="410.1" y1="438.2" x2="591.6" y2="438.2" stroke="#EBEBEB" stroke-width="1.1"/>
<line x1="410.1" y1="490.6" x2="591.6" y2="490.6" stroke="#EBEBEB" stroke-width="1.1"/>
<line x1="430.5" y1="292.6" x2="430.5" y2="499.6" stroke="#EBEBEB" stroke-width="1.1"/>
<line x1="465.6" y1="292.6" x2="465.6" y2="499.6" stroke="#EBEBEB" stroke-width="1.1"/>
<line x1="500.7" y1="292.6" x2="500.7" y2="499.6" stroke="#EBEBEB" stroke-width="1.1"/>
<line x1="535.8" y1="292.6" x2="535.8" y2="499.6" stroke="#EBEBEB" stroke-width="1.1"/>
<line x1="570.9" y1="292.6" x2="570.9" y2="499.6" stroke="#EBEBEB" stroke-width="1.1"/>
<polygon points="430.5,465.72 435.89,456.39 425.11,456.39" fill="none" stroke="#E8A900" stroke-width="1.0"/>
<polygon points="465.6,438.92 470.99,429.59 460.21,429.59" fill="none" stroke="#E8A900" stroke-width="1.0"/>
<polygon points="500.7,408.02 506.09,398.69 495.31,398.69" fill="none" stroke="#E8A900" stroke-width="1.0"/>
<polygon points="535.8,382.12 541.19,372.79 530.41,372.79" fill="none" stroke="#E8A900" stroke-width="1.0"/>
<polygon points="570.9,350.22 576.29,340.89 565.51,340.89" fill="none" stroke="#E8A900" stroke-width="1.0"/>
<polygon points="424.84,481 430.5,486.66 436.16,481 430.5,475.34" fill="none" stroke="#8BB823" stroke-width="1.0"/>
<polygon points="459.94,479 465.6,484.66 471.26,479 465.6,473.34" fill="none" stroke="#8BB823" stroke-width="1.0"/>
<polygon points="495.04,474.3 500.7,479.96 506.36,474.3 500.7,468.64" fill="none" stroke="#8BB823" stroke-width="1.0"/>
<polygon points="530.14,473.4 535.8,479.06 541.46,473.4 535.8,467.74" fill="none" stroke="#8BB823" stroke-width="1.0"/>
<polygon points="565.24,469.8 570.9,475.46 576.56,469.8 570.9,464.14" fill="none" stroke="#8BB823" stroke-width="1.0"/>
<rect x="426.96" y="474.76" width="7.09" height="7.09" fill="none" stroke="#925CA4" stroke-width="1.0"/>
<rect x="462.06" y="471.66" width="7.09" height="7.09" fill="none" stroke="#925CA4" stroke-width="1.0"/>
<rect x="497.16" y="461.16" width="7.09" height="7.09" fill="none" stroke="#925CA4" stroke-width="1.0"/>
<rect x="532.26" y="450.56" width="7.09" height="7.09" fill="none" stroke="#925CA4" stroke-width="1.0"/>
<rect x="567.36" y="432.06" width="7.09" height="7.09" fill="none" stroke="#925CA4" stroke-width="1.0"/>
<polygon points="430.5,472.95 435.48,481.58 425.52,481.58" fill="#062EA6" stroke="#062EA6" stroke-width="1.0" stroke-linejoin="round"/>
<polygon points="465.6,470.65 470.58,479.28 460.62,479.28" fill="#062EA6" stroke="#062EA6" stroke-width="1.0" stroke-linejoin="round"/>
<polygon points="500.7,466.25 505.68,474.88 495.72,474.88" fill="#062EA6" stroke="#062EA6" stroke-width="1.0" stroke-linejoin="round"/>
<polygon points="535.8,466.05 540.78,474.68 530.82,474.68" fill="#062EA6" stroke="#062EA6" stroke-width="1.0" stroke-linejoin="round"/>
<polygon points="570.9,460.45 575.88,469.08 565.92,469.08" fill="#062EA6" stroke="#062EA6" stroke-width="1.0" stroke-linejoin="round"/>
<path d="M426.5 478.3L434.5 486.3M426.5 486.3L434.5 478.3M424.84 482.3L436.16 482.3M430.5 476.64L430.5 487.96" fill="none" stroke="#F70031" stroke-width="1.0"/>
<path d="M461.6 477L469.6 485M461.6 485L469.6 477M459.94 481L471.26 481M465.6 475.34L465.6 486.66" fill="none" stroke="#F70031" stroke-width="1.0"/>
<path d="M496.7 473.9L504.7 481.9M496.7 481.9L504.7 473.9M495.04 477.9L506.36 477.9M500.7 472.24L500.7 483.56" fill="none" stroke="#F70031" stroke-width="1.0"/>
<path d="M531.8 473.8L539.8 481.8M531.8 481.8L539.8 473.8M530.14 477.8L541.46 477.8M535.8 472.14L535.8 483.46" fill="none" stroke="#F70031" stroke-width="1.0"/>
<path d="M566.9 470.8L574.9 478.8M566.9 478.8L574.9 470.8M565.24 474.8L576.56 474.8M570.9 469.14L570.9 480.46" fill="none" stroke="#F70031" stroke-width="1.0"/>
<polyline points="430.5,459.5 465.6,432.7 500.7,401.8 535.8,375.9 570.9,344" fill="none" stroke="#E8A900" stroke-width="2.45" stroke-linejoin="round" stroke-linecap="butt"/>
<polyline points="430.5,481 465.6,479 500.7,474.3 535.8,473.4 570.9,469.8" fill="none" stroke="#8BB823" stroke-width="2.45" stroke-linejoin="round" stroke-linecap="butt"/>
<polyline points="430.5,478.3 465.6,475.2 500.7,464.7 535.8,454.1 570.9,435.6" fill="none" stroke="#925CA4" stroke-width="2.45" stroke-linejoin="round" stroke-linecap="butt"/>
<polyline points="430.5,478.7 465.6,476.4 500.7,472 535.8,471.8 570.9,466.2" fill="none" stroke="#062EA6" stroke-width="2.45" stroke-linejoin="round" stroke-linecap="butt"/>
<polyline points="430.5,482.3 465.6,481 500.7,477.9 535.8,477.8 570.9,474.8" fill="none" stroke="#F70031" stroke-width="2.45" stroke-linejoin="round" stroke-linecap="butt"/>
<rect x="410.1" y="292.6" width="181.5" height="207" fill="none" stroke="#858585" stroke-width="1.0"/>
<rect x="410.1" y="273.8" width="181.5" height="18.8" fill="#D9D9D9" stroke="#686868" stroke-width="1.0"/>
<line x1="409.6" y1="292.6" x2="592.1" y2="292.6" stroke="#5c5c5c" stroke-width="1.3"/>
<text x="500.85" y="286.8" font-size="9.76" fill="#1A1A1A" text-anchor="middle">PK=30%</text>
<line x1="430.5" y1="499.6" x2="430.5" y2="503.2" stroke="#444444" stroke-width="1.15"/>
<text x="430.5" y="512.6" font-size="9.76" fill="#4D4D4D" text-anchor="middle">50</text>
<line x1="465.6" y1="499.6" x2="465.6" y2="503.2" stroke="#444444" stroke-width="1.15"/>
<text x="465.6" y="512.6" font-size="9.76" fill="#4D4D4D" text-anchor="middle">100</text>
<line x1="500.7" y1="499.6" x2="500.7" y2="503.2" stroke="#444444" stroke-width="1.15"/>
<text x="500.7" y="512.6" font-size="9.76" fill="#4D4D4D" text-anchor="middle">150</text>
<line x1="535.8" y1="499.6" x2="535.8" y2="503.2" stroke="#444444" stroke-width="1.15"/>
<text x="535.8" y="512.6" font-size="9.76" fill="#4D4D4D" text-anchor="middle">200</text>
<line x1="570.9" y1="499.6" x2="570.9" y2="503.2" stroke="#444444" stroke-width="1.15"/>
<text x="570.9" y="512.6" font-size="9.76" fill="#4D4D4D" text-anchor="middle">250</text>
<line x1="29.9" y1="333.4" x2="33.3" y2="333.4" stroke="#444444" stroke-width="1.15"/>
<text x="27.2" y="336.85" font-size="9.76" fill="#4D4D4D" text-anchor="end">75</text>
<line x1="29.9" y1="385.8" x2="33.3" y2="385.8" stroke="#444444" stroke-width="1.15"/>
<text x="27.2" y="389.25" font-size="9.76" fill="#4D4D4D" text-anchor="end">50</text>
<line x1="29.9" y1="438.2" x2="33.3" y2="438.2" stroke="#444444" stroke-width="1.15"/>
<text x="27.2" y="441.65" font-size="9.76" fill="#4D4D4D" text-anchor="end">25</text>
<line x1="29.9" y1="490.6" x2="33.3" y2="490.6" stroke="#444444" stroke-width="1.15"/>
<text x="27.2" y="494.05" font-size="9.76" fill="#4D4D4D" text-anchor="end">0</text>
<rect x="591.6" y="292.6" width="19.2" height="207" fill="#D9D9D9" stroke="#686868" stroke-width="1.0"/>
<text x="0" y="0" font-size="9.76" fill="#1A1A1A" text-anchor="middle" transform="translate(598.4 396.1) rotate(90)">SHD</text>
<text x="312.45" y="527.6" font-size="12.2" fill="#000" text-anchor="middle">Number of Vertices</text>
<text x="1.6" y="552" font-size="15.6" font-weight="bold" fill="#000">C</text>
<rect x="33.3" y="561.2" width="181.5" height="207" fill="#fff"/>
<line x1="33.3" y1="594.05" x2="214.8" y2="594.05" stroke="#EBEBEB" stroke-width="0.55"/>
<line x1="33.3" y1="641.2" x2="214.8" y2="641.2" stroke="#EBEBEB" stroke-width="0.55"/>
<line x1="33.3" y1="688.35" x2="214.8" y2="688.35" stroke="#EBEBEB" stroke-width="0.55"/>
<line x1="33.3" y1="735.45" x2="214.8" y2="735.45" stroke="#EBEBEB" stroke-width="0.55"/>
<line x1="33.3" y1="570.5" x2="214.8" y2="570.5" stroke="#EBEBEB" stroke-width="1.1"/>
<line x1="33.3" y1="617.6" x2="214.8" y2="617.6" stroke="#EBEBEB" stroke-width="1.1"/>
<line x1="33.3" y1="664.8" x2="214.8" y2="664.8" stroke="#EBEBEB" stroke-width="1.1"/>
<line x1="33.3" y1="711.9" x2="214.8" y2="711.9" stroke="#EBEBEB" stroke-width="1.1"/>
<line x1="33.3" y1="759" x2="214.8" y2="759" stroke="#EBEBEB" stroke-width="1.1"/>
<line x1="53.7" y1="561.2" x2="53.7" y2="768.2" stroke="#EBEBEB" stroke-width="1.1"/>
<line x1="88.8" y1="561.2" x2="88.8" y2="768.2" stroke="#EBEBEB" stroke-width="1.1"/>
<line x1="123.9" y1="561.2" x2="123.9" y2="768.2" stroke="#EBEBEB" stroke-width="1.1"/>
<line x1="159" y1="561.2" x2="159" y2="768.2" stroke="#EBEBEB" stroke-width="1.1"/>
<line x1="194.1" y1="561.2" x2="194.1" y2="768.2" stroke="#EBEBEB" stroke-width="1.1"/>
<polygon points="53.7,654.62 59.09,645.29 48.31,645.29" fill="none" stroke="#E8A900" stroke-width="1.0"/>
<polygon points="88.8,689.32 94.19,679.99 83.41,679.99" fill="none" stroke="#E8A900" stroke-width="1.0"/>
<polygon points="123.9,673.42 129.29,664.09 118.51,664.09" fill="none" stroke="#E8A900" stroke-width="1.0"/>
<polygon points="159,651.32 164.39,641.99 153.61,641.99" fill="none" stroke="#E8A900" stroke-width="1.0"/>
<polygon points="194.1,651.72 199.49,642.39 188.71,642.39" fill="none" stroke="#E8A900" stroke-width="1.0"/>
<polygon points="48.04,736.3 53.7,741.96 59.36,736.3 53.7,730.64" fill="none" stroke="#8BB823" stroke-width="1.0"/>
<polygon points="83.14,748.3 88.8,753.96 94.46,748.3 88.8,742.64" fill="none" stroke="#8BB823" stroke-width="1.0"/>
<polygon points="118.24,740.9 123.9,746.56 129.56,740.9 123.9,735.24" fill="none" stroke="#8BB823" stroke-width="1.0"/>
<polygon points="153.34,718.1 159,723.76 164.66,718.1 159,712.44" fill="none" stroke="#8BB823" stroke-width="1.0"/>
<polygon points="188.44,713.5 194.1,719.16 199.76,713.5 194.1,707.84" fill="none" stroke="#8BB823" stroke-width="1.0"/>
<rect x="50.16" y="674.16" width="7.09" height="7.09" fill="none" stroke="#925CA4" stroke-width="1.0"/>
<rect x="85.26" y="643.96" width="7.09" height="7.09" fill="none" stroke="#925CA4" stroke-width="1.0"/>
<rect x="120.36" y="621.06" width="7.09" height="7.09" fill="none" stroke="#925CA4" stroke-width="1.0"/>
<rect x="155.46" y="608.46" width="7.09" height="7.09" fill="none" stroke="#925CA4" stroke-width="1.0"/>
<rect x="190.56" y="621.46" width="7.09" height="7.09" fill="none" stroke="#925CA4" stroke-width="1.0"/>
<polygon points="53.7,676.35 58.68,684.98 48.72,684.98" fill="#062EA6" stroke="#062EA6" stroke-width="1.0" stroke-linejoin="round"/>
<polygon points="88.8,659.85 93.78,668.48 83.82,668.48" fill="#062EA6" stroke="#062EA6" stroke-width="1.0" stroke-linejoin="round"/>
<polygon points="123.9,654.65 128.88,663.28 118.92,663.28" fill="#062EA6" stroke="#062EA6" stroke-width="1.0" stroke-linejoin="round"/>
<polygon points="159,641.85 163.98,650.48 154.02,650.48" fill="#062EA6" stroke="#062EA6" stroke-width="1.0" stroke-linejoin="round"/>
<polygon points="194.1,654.35 199.08,662.98 189.12,662.98" fill="#062EA6" stroke="#062EA6" stroke-width="1.0" stroke-linejoin="round"/>
<path d="M49.7 572.7L57.7 580.7M49.7 580.7L57.7 572.7M48.04 576.7L59.36 576.7M53.7 571.04L53.7 582.36" fill="none" stroke="#F70031" stroke-width="1.0"/>
<path d="M84.8 570.9L92.8 578.9M84.8 578.9L92.8 570.9M83.14 574.9L94.46 574.9M88.8 569.24L88.8 580.56" fill="none" stroke="#F70031" stroke-width="1.0"/>
<path d="M119.9 574.3L127.9 582.3M119.9 582.3L127.9 574.3M118.24 578.3L129.56 578.3M123.9 572.64L123.9 583.96" fill="none" stroke="#F70031" stroke-width="1.0"/>
<path d="M155 575.6L163 583.6M155 583.6L163 575.6M153.34 579.6L164.66 579.6M159 573.94L159 585.26" fill="none" stroke="#F70031" stroke-width="1.0"/>
<path d="M190.1 570.5L198.1 578.5M190.1 578.5L198.1 570.5M188.44 574.5L199.76 574.5M194.1 568.84L194.1 580.16" fill="none" stroke="#F70031" stroke-width="1.0"/>
<polyline points="53.7,648.4 88.8,683.1 123.9,667.2 159,645.1 194.1,645.5" fill="none" stroke="#E8A900" stroke-width="2.45" stroke-linejoin="round" stroke-linecap="butt"/>
<polyline points="53.7,736.3 88.8,748.3 123.9,740.9 159,718.1 194.1,713.5" fill="none" stroke="#8BB823" stroke-width="2.45" stroke-linejoin="round" stroke-linecap="butt"/>
<polyline points="53.7,677.7 88.8,647.5 123.9,624.6 159,612 194.1,625" fill="none" stroke="#925CA4" stroke-width="2.45" stroke-linejoin="round" stroke-linecap="butt"/>
<polyline points="53.7,682.1 88.8,665.6 123.9,660.4 159,647.6 194.1,660.1" fill="none" stroke="#062EA6" stroke-width="2.45" stroke-linejoin="round" stroke-linecap="butt"/>
<polyline points="53.7,576.7 88.8,574.9 123.9,578.3 159,579.6 194.1,574.5" fill="none" stroke="#F70031" stroke-width="2.45" stroke-linejoin="round" stroke-linecap="butt"/>
<rect x="33.3" y="561.2" width="181.5" height="207" fill="none" stroke="#858585" stroke-width="1.0"/>
<rect x="33.3" y="542.4" width="181.5" height="18.8" fill="#D9D9D9" stroke="#686868" stroke-width="1.0"/>
<line x1="32.8" y1="561.2" x2="215.3" y2="561.2" stroke="#5c5c5c" stroke-width="1.3"/>
<text x="124.05" y="555.4" font-size="9.76" fill="#1A1A1A" text-anchor="middle">PK=10%</text>
<line x1="53.7" y1="768.2" x2="53.7" y2="771.8" stroke="#444444" stroke-width="1.15"/>
<text x="53.7" y="781.2" font-size="9.76" fill="#4D4D4D" text-anchor="middle">50</text>
<line x1="88.8" y1="768.2" x2="88.8" y2="771.8" stroke="#444444" stroke-width="1.15"/>
<text x="88.8" y="781.2" font-size="9.76" fill="#4D4D4D" text-anchor="middle">100</text>
<line x1="123.9" y1="768.2" x2="123.9" y2="771.8" stroke="#444444" stroke-width="1.15"/>
<text x="123.9" y="781.2" font-size="9.76" fill="#4D4D4D" text-anchor="middle">150</text>
<line x1="159" y1="768.2" x2="159" y2="771.8" stroke="#444444" stroke-width="1.15"/>
<text x="159" y="781.2" font-size="9.76" fill="#4D4D4D" text-anchor="middle">200</text>
<line x1="194.1" y1="768.2" x2="194.1" y2="771.8" stroke="#444444" stroke-width="1.15"/>
<text x="194.1" y="781.2" font-size="9.76" fill="#4D4D4D" text-anchor="middle">250</text>
<rect x="221.7" y="561.2" width="181.5" height="207" fill="#fff"/>
<line x1="221.7" y1="594.05" x2="403.2" y2="594.05" stroke="#EBEBEB" stroke-width="0.55"/>
<line x1="221.7" y1="641.2" x2="403.2" y2="641.2" stroke="#EBEBEB" stroke-width="0.55"/>
<line x1="221.7" y1="688.35" x2="403.2" y2="688.35" stroke="#EBEBEB" stroke-width="0.55"/>
<line x1="221.7" y1="735.45" x2="403.2" y2="735.45" stroke="#EBEBEB" stroke-width="0.55"/>
<line x1="221.7" y1="570.5" x2="403.2" y2="570.5" stroke="#EBEBEB" stroke-width="1.1"/>
<line x1="221.7" y1="617.6" x2="403.2" y2="617.6" stroke="#EBEBEB" stroke-width="1.1"/>
<line x1="221.7" y1="664.8" x2="403.2" y2="664.8" stroke="#EBEBEB" stroke-width="1.1"/>
<line x1="221.7" y1="711.9" x2="403.2" y2="711.9" stroke="#EBEBEB" stroke-width="1.1"/>
<line x1="221.7" y1="759" x2="403.2" y2="759" stroke="#EBEBEB" stroke-width="1.1"/>
<line x1="242.1" y1="561.2" x2="242.1" y2="768.2" stroke="#EBEBEB" stroke-width="1.1"/>
<line x1="277.2" y1="561.2" x2="277.2" y2="768.2" stroke="#EBEBEB" stroke-width="1.1"/>
<line x1="312.3" y1="561.2" x2="312.3" y2="768.2" stroke="#EBEBEB" stroke-width="1.1"/>
<line x1="347.4" y1="561.2" x2="347.4" y2="768.2" stroke="#EBEBEB" stroke-width="1.1"/>
<line x1="382.5" y1="561.2" x2="382.5" y2="768.2" stroke="#EBEBEB" stroke-width="1.1"/>
<polygon points="242.1,661.52 247.49,652.19 236.71,652.19" fill="none" stroke="#E8A900" stroke-width="1.0"/>
<polygon points="277.2,653.22 282.59,643.89 271.81,643.89" fill="none" stroke="#E8A900" stroke-width="1.0"/>
<polygon points="312.3,651.52 317.69,642.19 306.91,642.19" fill="none" stroke="#E8A900" stroke-width="1.0"/>
<polygon points="347.4,653.62 352.79,644.29 342.01,644.29" fill="none" stroke="#E8A900" stroke-width="1.0"/>
<polygon points="382.5,649.82 387.89,640.49 377.11,640.49" fill="none" stroke="#E8A900" stroke-width="1.0"/>
<polygon points="236.44,702.5 242.1,708.16 247.76,702.5 242.1,696.84" fill="none" stroke="#8BB823" stroke-width="1.0"/>
<polygon points="271.54,705.6 277.2,711.26 282.86,705.6 277.2,699.94" fill="none" stroke="#8BB823" stroke-width="1.0"/>
<polygon points="306.64,703.7 312.3,709.36 317.96,703.7 312.3,698.04" fill="none" stroke="#8BB823" stroke-width="1.0"/>
<polygon points="341.74,688.8 347.4,694.46 353.06,688.8 347.4,683.14" fill="none" stroke="#8BB823" stroke-width="1.0"/>
<polygon points="376.84,690.5 382.5,696.16 388.16,690.5 382.5,684.84" fill="none" stroke="#8BB823" stroke-width="1.0"/>
<rect x="238.56" y="640.86" width="7.09" height="7.09" fill="none" stroke="#925CA4" stroke-width="1.0"/>
<rect x="273.66" y="620.36" width="7.09" height="7.09" fill="none" stroke="#925CA4" stroke-width="1.0"/>
<rect x="308.76" y="607.86" width="7.09" height="7.09" fill="none" stroke="#925CA4" stroke-width="1.0"/>
<rect x="343.86" y="598.36" width="7.09" height="7.09" fill="none" stroke="#925CA4" stroke-width="1.0"/>
<rect x="378.96" y="609.46" width="7.09" height="7.09" fill="none" stroke="#925CA4" stroke-width="1.0"/>
<polygon points="242.1,655.85 247.08,664.48 237.12,664.48" fill="#062EA6" stroke="#062EA6" stroke-width="1.0" stroke-linejoin="round"/>
<polygon points="277.2,655.25 282.18,663.88 272.22,663.88" fill="#062EA6" stroke="#062EA6" stroke-width="1.0" stroke-linejoin="round"/>
<polygon points="312.3,646.35 317.28,654.98 307.32,654.98" fill="#062EA6" stroke="#062EA6" stroke-width="1.0" stroke-linejoin="round"/>
<polygon points="347.4,627.25 352.38,635.88 342.42,635.88" fill="#062EA6" stroke="#062EA6" stroke-width="1.0" stroke-linejoin="round"/>
<polygon points="382.5,639.35 387.48,647.98 377.52,647.98" fill="#062EA6" stroke="#062EA6" stroke-width="1.0" stroke-linejoin="round"/>
<path d="M238.1 572.4L246.1 580.4M238.1 580.4L246.1 572.4M236.44 576.4L247.76 576.4M242.1 570.74L242.1 582.06" fill="none" stroke="#F70031" stroke-width="1.0"/>
<path d="M273.2 569.3L281.2 577.3M273.2 577.3L281.2 569.3M271.54 573.3L282.86 573.3M277.2 567.64L277.2 578.96" fill="none" stroke="#F70031" stroke-width="1.0"/>
<path d="M308.3 568.4L316.3 576.4M308.3 576.4L316.3 568.4M306.64 572.4L317.96 572.4M312.3 566.74L312.3 578.06" fill="none" stroke="#F70031" stroke-width="1.0"/>
<path d="M343.4 569.6L351.4 577.6M343.4 577.6L351.4 569.6M341.74 573.6L353.06 573.6M347.4 567.94L347.4 579.26" fill="none" stroke="#F70031" stroke-width="1.0"/>
<path d="M378.5 567.4L386.5 575.4M378.5 575.4L386.5 567.4M376.84 571.4L388.16 571.4M382.5 565.74L382.5 577.06" fill="none" stroke="#F70031" stroke-width="1.0"/>
<polyline points="242.1,655.3 277.2,647 312.3,645.3 347.4,647.4 382.5,643.6" fill="none" stroke="#E8A900" stroke-width="2.45" stroke-linejoin="round" stroke-linecap="butt"/>
<polyline points="242.1,702.5 277.2,705.6 312.3,703.7 347.4,688.8 382.5,690.5" fill="none" stroke="#8BB823" stroke-width="2.45" stroke-linejoin="round" stroke-linecap="butt"/>
<polyline points="242.1,644.4 277.2,623.9 312.3,611.4 347.4,601.9 382.5,613" fill="none" stroke="#925CA4" stroke-width="2.45" stroke-linejoin="round" stroke-linecap="butt"/>
<polyline points="242.1,661.6 277.2,661 312.3,652.1 347.4,633 382.5,645.1" fill="none" stroke="#062EA6" stroke-width="2.45" stroke-linejoin="round" stroke-linecap="butt"/>
<polyline points="242.1,576.4 277.2,573.3 312.3,572.4 347.4,573.6 382.5,571.4" fill="none" stroke="#F70031" stroke-width="2.45" stroke-linejoin="round" stroke-linecap="butt"/>
<rect x="221.7" y="561.2" width="181.5" height="207" fill="none" stroke="#858585" stroke-width="1.0"/>
<rect x="221.7" y="542.4" width="181.5" height="18.8" fill="#D9D9D9" stroke="#686868" stroke-width="1.0"/>
<line x1="221.2" y1="561.2" x2="403.7" y2="561.2" stroke="#5c5c5c" stroke-width="1.3"/>
<text x="312.45" y="555.4" font-size="9.76" fill="#1A1A1A" text-anchor="middle">PK=20%</text>
<line x1="242.1" y1="768.2" x2="242.1" y2="771.8" stroke="#444444" stroke-width="1.15"/>
<text x="242.1" y="781.2" font-size="9.76" fill="#4D4D4D" text-anchor="middle">50</text>
<line x1="277.2" y1="768.2" x2="277.2" y2="771.8" stroke="#444444" stroke-width="1.15"/>
<text x="277.2" y="781.2" font-size="9.76" fill="#4D4D4D" text-anchor="middle">100</text>
<line x1="312.3" y1="768.2" x2="312.3" y2="771.8" stroke="#444444" stroke-width="1.15"/>
<text x="312.3" y="781.2" font-size="9.76" fill="#4D4D4D" text-anchor="middle">150</text>
<line x1="347.4" y1="768.2" x2="347.4" y2="771.8" stroke="#444444" stroke-width="1.15"/>
<text x="347.4" y="781.2" font-size="9.76" fill="#4D4D4D" text-anchor="middle">200</text>
<line x1="382.5" y1="768.2" x2="382.5" y2="771.8" stroke="#444444" stroke-width="1.15"/>
<text x="382.5" y="781.2" font-size="9.76" fill="#4D4D4D" text-anchor="middle">250</text>
<rect x="410.1" y="561.2" width="181.5" height="207" fill="#fff"/>
<line x1="410.1" y1="594.05" x2="591.6" y2="594.05" stroke="#EBEBEB" stroke-width="0.55"/>
<line x1="410.1" y1="641.2" x2="591.6" y2="641.2" stroke="#EBEBEB" stroke-width="0.55"/>
<line x1="410.1" y1="688.35" x2="591.6" y2="688.35" stroke="#EBEBEB" stroke-width="0.55"/>
<line x1="410.1" y1="735.45" x2="591.6" y2="735.45" stroke="#EBEBEB" stroke-width="0.55"/>
<line x1="410.1" y1="570.5" x2="591.6" y2="570.5" stroke="#EBEBEB" stroke-width="1.1"/>
<line x1="410.1" y1="617.6" x2="591.6" y2="617.6" stroke="#EBEBEB" stroke-width="1.1"/>
<line x1="410.1" y1="664.8" x2="591.6" y2="664.8" stroke="#EBEBEB" stroke-width="1.1"/>
<line x1="410.1" y1="711.9" x2="591.6" y2="711.9" stroke="#EBEBEB" stroke-width="1.1"/>
<line x1="410.1" y1="759" x2="591.6" y2="759" stroke="#EBEBEB" stroke-width="1.1"/>
<line x1="430.5" y1="561.2" x2="430.5" y2="768.2" stroke="#EBEBEB" stroke-width="1.1"/>
<line x1="465.6" y1="561.2" x2="465.6" y2="768.2" stroke="#EBEBEB" stroke-width="1.1"/>
<line x1="500.7" y1="561.2" x2="500.7" y2="768.2" stroke="#EBEBEB" stroke-width="1.1"/>
<line x1="535.8" y1="561.2" x2="535.8" y2="768.2" stroke="#EBEBEB" stroke-width="1.1"/>
<line x1="570.9" y1="561.2" x2="570.9" y2="768.2" stroke="#EBEBEB" stroke-width="1.1"/>
<polygon points="430.5,627.12 435.89,617.79 425.11,617.79" fill="none" stroke="#E8A900" stroke-width="1.0"/>
<polygon points="465.6,621.42 470.99,612.09 460.21,612.09" fill="none" stroke="#E8A900" stroke-width="1.0"/>
<polygon points="500.7,621.42 506.09,612.09 495.31,612.09" fill="none" stroke="#E8A900" stroke-width="1.0"/>
<polygon points="535.8,625.22 541.19,615.89 530.41,615.89" fill="none" stroke="#E8A900" stroke-width="1.0"/>
<polygon points="570.9,619.52 576.29,610.19 565.51,610.19" fill="none" stroke="#E8A900" stroke-width="1.0"/>
<polygon points="424.84,688.5 430.5,694.16 436.16,688.5 430.5,682.84" fill="none" stroke="#8BB823" stroke-width="1.0"/>
<polygon points="459.94,661.1 465.6,666.76 471.26,661.1 465.6,655.44" fill="none" stroke="#8BB823" stroke-width="1.0"/>
<polygon points="495.04,663.9 500.7,669.56 506.36,663.9 500.7,658.24" fill="none" stroke="#8BB823" stroke-width="1.0"/>
<polygon points="530.14,655.5 535.8,661.16 541.46,655.5 535.8,649.84" fill="none" stroke="#8BB823" stroke-width="1.0"/>
<polygon points="565.24,653.3 570.9,658.96 576.56,653.3 570.9,647.64" fill="none" stroke="#8BB823" stroke-width="1.0"/>
<rect x="426.96" y="651.56" width="7.09" height="7.09" fill="none" stroke="#925CA4" stroke-width="1.0"/>
<rect x="462.06" y="627.26" width="7.09" height="7.09" fill="none" stroke="#925CA4" stroke-width="1.0"/>
<rect x="497.16" y="611.06" width="7.09" height="7.09" fill="none" stroke="#925CA4" stroke-width="1.0"/>
<rect x="532.26" y="599.36" width="7.09" height="7.09" fill="none" stroke="#925CA4" stroke-width="1.0"/>
<rect x="567.36" y="606.96" width="7.09" height="7.09" fill="none" stroke="#925CA4" stroke-width="1.0"/>
<polygon points="430.5,689.05 435.48,697.68 425.52,697.68" fill="#062EA6" stroke="#062EA6" stroke-width="1.0" stroke-linejoin="round"/>
<polygon points="465.6,664.95 470.58,673.58 460.62,673.58" fill="#062EA6" stroke="#062EA6" stroke-width="1.0" stroke-linejoin="round"/>
<polygon points="500.7,651.55 505.68,660.18 495.72,660.18" fill="#062EA6" stroke="#062EA6" stroke-width="1.0" stroke-linejoin="round"/>
<polygon points="535.8,632.95 540.78,641.58 530.82,641.58" fill="#062EA6" stroke="#062EA6" stroke-width="1.0" stroke-linejoin="round"/>
<polygon points="570.9,645.65 575.88,654.28 565.92,654.28" fill="#062EA6" stroke="#062EA6" stroke-width="1.0" stroke-linejoin="round"/>
<path d="M426.5 569.3L434.5 577.3M426.5 577.3L434.5 569.3M424.84 573.3L436.16 573.3M430.5 567.64L430.5 578.96" fill="none" stroke="#F70031" stroke-width="1.0"/>
<path d="M461.6 568.4L469.6 576.4M461.6 576.4L469.6 568.4M459.94 572.4L471.26 572.4M465.6 566.74L465.6 578.06" fill="none" stroke="#F70031" stroke-width="1.0"/>
<path d="M496.7 566.9L504.7 574.9M496.7 574.9L504.7 566.9M495.04 570.9L506.36 570.9M500.7 565.24L500.7 576.56" fill="none" stroke="#F70031" stroke-width="1.0"/>
<path d="M531.8 567.1L539.8 575.1M531.8 575.1L539.8 567.1M530.14 571.1L541.46 571.1M535.8 565.44L535.8 576.76" fill="none" stroke="#F70031" stroke-width="1.0"/>
<path d="M566.9 566.7L574.9 574.7M566.9 574.7L574.9 566.7M565.24 570.7L576.56 570.7M570.9 565.04L570.9 576.36" fill="none" stroke="#F70031" stroke-width="1.0"/>
<polyline points="430.5,620.9 465.6,615.2 500.7,615.2 535.8,619 570.9,613.3" fill="none" stroke="#E8A900" stroke-width="2.45" stroke-linejoin="round" stroke-linecap="butt"/>
<polyline points="430.5,688.5 465.6,661.1 500.7,663.9 535.8,655.5 570.9,653.3" fill="none" stroke="#8BB823" stroke-width="2.45" stroke-linejoin="round" stroke-linecap="butt"/>
<polyline points="430.5,655.1 465.6,630.8 500.7,614.6 535.8,602.9 570.9,610.5" fill="none" stroke="#925CA4" stroke-width="2.45" stroke-linejoin="round" stroke-linecap="butt"/>
<polyline points="430.5,694.8 465.6,670.7 500.7,657.3 535.8,638.7 570.9,651.4" fill="none" stroke="#062EA6" stroke-width="2.45" stroke-linejoin="round" stroke-linecap="butt"/>
<polyline points="430.5,573.3 465.6,572.4 500.7,570.9 535.8,571.1 570.9,570.7" fill="none" stroke="#F70031" stroke-width="2.45" stroke-linejoin="round" stroke-linecap="butt"/>
<rect x="410.1" y="561.2" width="181.5" height="207" fill="none" stroke="#858585" stroke-width="1.0"/>
<rect x="410.1" y="542.4" width="181.5" height="18.8" fill="#D9D9D9" stroke="#686868" stroke-width="1.0"/>
<line x1="409.6" y1="561.2" x2="592.1" y2="561.2" stroke="#5c5c5c" stroke-width="1.3"/>
<text x="500.85" y="555.4" font-size="9.76" fill="#1A1A1A" text-anchor="middle">PK=30%</text>
<line x1="430.5" y1="768.2" x2="430.5" y2="771.8" stroke="#444444" stroke-width="1.15"/>
<text x="430.5" y="781.2" font-size="9.76" fill="#4D4D4D" text-anchor="middle">50</text>
<line x1="465.6" y1="768.2" x2="465.6" y2="771.8" stroke="#444444" stroke-width="1.15"/>
<text x="465.6" y="781.2" font-size="9.76" fill="#4D4D4D" text-anchor="middle">100</text>
<line x1="500.7" y1="768.2" x2="500.7" y2="771.8" stroke="#444444" stroke-width="1.15"/>
<text x="500.7" y="781.2" font-size="9.76" fill="#4D4D4D" text-anchor="middle">150</text>
<line x1="535.8" y1="768.2" x2="535.8" y2="771.8" stroke="#444444" stroke-width="1.15"/>
<text x="535.8" y="781.2" font-size="9.76" fill="#4D4D4D" text-anchor="middle">200</text>
<line x1="570.9" y1="768.2" x2="570.9" y2="771.8" stroke="#444444" stroke-width="1.15"/>
<text x="570.9" y="781.2" font-size="9.76" fill="#4D4D4D" text-anchor="middle">250</text>
<line x1="29.9" y1="570.5" x2="33.3" y2="570.5" stroke="#444444" stroke-width="1.15"/>
<text x="27.2" y="573.95" font-size="9.76" fill="#4D4D4D" text-anchor="end">1.000</text>
<line x1="29.9" y1="617.6" x2="33.3" y2="617.6" stroke="#444444" stroke-width="1.15"/>
<text x="27.2" y="621.05" font-size="9.76" fill="#4D4D4D" text-anchor="end">0.975</text>
<line x1="29.9" y1="664.8" x2="33.3" y2="664.8" stroke="#444444" stroke-width="1.15"/>
<text x="27.2" y="668.25" font-size="9.76" fill="#4D4D4D" text-anchor="end">0.950</text>
<line x1="29.9" y1="711.9" x2="33.3" y2="711.9" stroke="#444444" stroke-width="1.15"/>
<text x="27.2" y="715.35" font-size="9.76" fill="#4D4D4D" text-anchor="end">0.925</text>
<line x1="29.9" y1="759" x2="33.3" y2="759" stroke="#444444" stroke-width="1.15"/>
<text x="27.2" y="762.45" font-size="9.76" fill="#4D4D4D" text-anchor="end">0.900</text>
<rect x="591.6" y="561.2" width="19.2" height="207" fill="#D9D9D9" stroke="#686868" stroke-width="1.0"/>
<text x="0" y="0" font-size="9.76" fill="#1A1A1A" text-anchor="middle" transform="translate(598.4 664.7) rotate(90)">Constraint Satisfaction Rate</text>
<text x="312.45" y="796.2" font-size="12.2" fill="#000" text-anchor="middle">Number of Vertices</text>
<text x="630.4" y="354.7" font-size="12.2" fill="#000">method</text>
<polygon points="640,378.33 645.66,368.53 634.34,368.53" fill="none" stroke="#E8A900" stroke-width="1.0"/>
<line x1="632.1" y1="371.8" x2="647.9" y2="371.8" stroke="#E8A900" stroke-width="2.45"/>
<text x="655.8" y="375.3" font-size="9.76" fill="#000">PC(all_exp)</text>
<polygon points="634.06,391.1 640,397.04 645.94,391.1 640,385.16" fill="none" stroke="#8BB823" stroke-width="1.0"/>
<line x1="632.1" y1="391.1" x2="647.9" y2="391.1" stroke="#8BB823" stroke-width="2.45"/>
<text x="655.8" y="394.6" font-size="9.76" fill="#000">PC(d_exp)</text>
<rect x="636.28" y="406.68" width="7.44" height="7.44" fill="none" stroke="#925CA4" stroke-width="1.0"/>
<line x1="632.1" y1="410.4" x2="647.9" y2="410.4" stroke="#925CA4" stroke-width="2.45"/>
<text x="655.8" y="413.9" font-size="9.76" fill="#000">MMHC</text>
<polygon points="640,423.71 645.19,432.7 634.81,432.7" fill="#062EA6" stroke="#062EA6" stroke-width="1.0" stroke-linejoin="round"/>
<line x1="632.1" y1="429.7" x2="647.9" y2="429.7" stroke="#062EA6" stroke-width="2.45"/>
<text x="655.8" y="433.2" font-size="9.76" fill="#000">PC-PDAG</text>
<path d="M635.8 444.8L644.2 453.2M635.8 453.2L644.2 444.8M634.06 449L645.94 449M640 443.06L640 454.94" fill="none" stroke="#F70031" stroke-width="1.0"/>
<line x1="632.1" y1="449" x2="647.9" y2="449" stroke="#F70031" stroke-width="2.45"/>
<text x="655.8" y="452.5" font-size="9.76" fill="#000">MPPC</text>
</svg>
</body></html>
